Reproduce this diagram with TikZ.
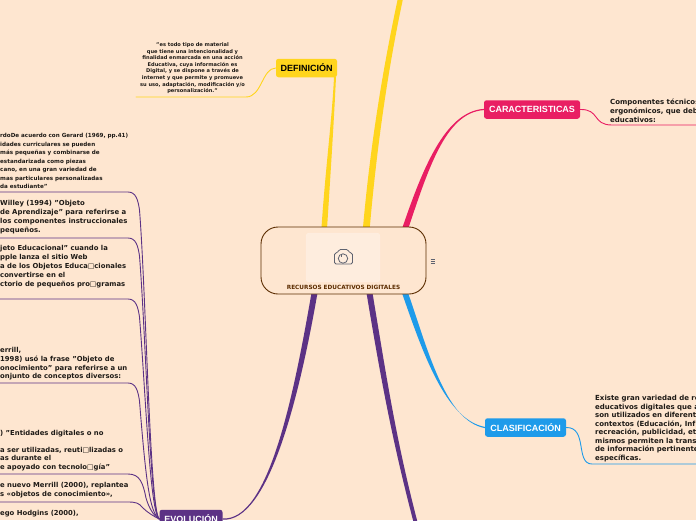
\documentclass[tikz,border=0pt]{standalone}
\usepackage{fontspec}
\setmainfont{DejaVu Sans}
\newfontfamily\labelfont{Liberation Sans}
\usetikzlibrary{calc}
\definecolor{bgc}{HTML}{FEE6D0}
\definecolor{yel}{HTML}{FFD51D}
\definecolor{pnk}{HTML}{E91E63}
\definecolor{blu}{HTML}{1E9BEA}
\definecolor{pur}{HTML}{5C3285}
\definecolor{brn}{HTML}{5B2C00}
\definecolor{txt}{HTML}{1E1A16}
\definecolor{ico}{HTML}{5F6370}
\tikzset{
  topic/.style={rounded corners=2.5pt,inner sep=0pt,minimum height=18.5pt,font=\labelfont\bfseries\fontsize{9}{11}\selectfont,anchor=center},
  blockA/.style={inner sep=0pt,anchor=north west,align=left,text=txt,font=\bfseries\fontsize{5.6}{8.5}\selectfont},
  blockB/.style={inner sep=0pt,anchor=north west,align=left,text=txt,font=\bfseries\fontsize{6.85}{8.8}\selectfont},
  blockD/.style={inner sep=0pt,anchor=north west,align=left,text=txt,font=\bfseries\fontsize{6.85}{8.5}\selectfont},
  blockC/.style={inner sep=0pt,anchor=north,align=center,text=txt,font=\bfseries\fontsize{5.1}{6.6}\selectfont},
  twig/.style={line width=0.9pt,line cap=round},
}
% colour, start, start half-width vector, control 1, control 2, end, end half-width vector
\newcommand\taperbranch[7]{%
  \fill[#1] ($#2+#3$) .. controls ($#4+#3$) and ($#5+#7$) .. ($#6+#7$)
     -- ($#6-#7$) .. controls ($#5-#7$) and ($#4-#3$) .. ($#2-#3$) -- cycle;}
\begin{document}
\begin{tikzpicture}[x=1pt,y=-1pt]
\useasboundingbox (0,0) rectangle (696,520);
\clip (0,0) rectangle (696,520);
\fill[bgc] (0,0) rectangle (696,520);
% nodes
\node[topic,fill=yel,text=black,minimum width=61pt] (def) at (306.5,68) {DEFINICIÓN};
\node[topic,fill=pnk,text=white,minimum width=96pt] (car) at (532,109.5) {CARACTERISTICAS};
\node[topic,fill=blu,text=white,minimum width=81pt] (cla) at (525.5,427.5) {CLASIFICACIÓN};
\node[topic,fill=pur,text=white,minimum width=63pt] (evo) at (191,519) {EVOLUCIÓN};
\coordinate (root) at (343.5,260.5);
\coordinate (topY) at (401,-4);
\coordinate (botP) at (416,524);
% thick branches
\taperbranch{yel}{(324,232)}{(2.8,0)}{(328,170)}{(333,120)}{(335,77)}{(1,0)}
\taperbranch{yel}{(366,232)}{(3.4,0)}{(373,150)}{(385,70)}{(topY)}{(2.6,0)}
\taperbranch{pnk}{(404,232)}{(2.8,0.8)}{(425,170)}{(445,112)}{(car.west)}{(0,0.6)}
\taperbranch{blu}{(404,290)}{(2.8,-0.8)}{(425,350)}{(445,420)}{(cla.west)}{(0,0.6)}
\taperbranch{pur}{(369,290)}{(3,0)}{(384,380)}{(394,440)}{(botP)}{(2,0)}
\taperbranch{pur}{(315,290)}{(3,0)}{(296,400)}{(268,522)}{(evo.east)}{(0,0.6)}
% thin branches
\draw[twig,yel] (def.west) .. controls (262,68) and (262,97) .. (246,97) -- (136,97);
\draw[twig,pnk] (car.east) .. controls (600,109) and (592,125) .. (612,125) -- (700,125);
\draw[twig,blu] (cla.east) .. controls (588,427) and (575,464) .. (592,464) -- (700,464);
\foreach \yy in {192,238,299,383}{
  \draw[twig,pur] (evo.west) .. controls (150,513) and (146,{\yy+100}) .. (139.5,{\yy+18})
     .. controls (138,{\yy+8}) and (136,\yy) .. (128,\yy) -- (-4,\yy);}
\draw[twig,pur] (evo.west) .. controls (153,515) and (149,508) .. (146,498)
     .. controls (143,483) and (140,474) .. (128,474) -- (-4,474);
\draw[twig,pur] (evo.west) .. controls (153,516) and (147,512) .. (143,508)
     .. controls (139,503) and (136,502) .. (128,502) -- (-4,502);
% root
\node[draw=brn,line width=0.9pt,fill=bgc,rounded corners=17pt,minimum width=165pt,minimum height=67pt,inner sep=0pt] (rootbox) at (root) {};
\node[fill=white,fill opacity=0.3,draw=white,draw opacity=0.25,rounded corners=3pt,minimum width=74pt,minimum height=49pt,inner sep=0pt] (photo) at (343,257.5) {};
\draw[ico,line width=0.8pt,rounded corners=1.5pt] (334.5,253) -- (337.5,253) -- (339,249.5) -- (348,249.5) -- (349.5,253) -- (352.5,253) -- (352.5,264) -- (334.5,264) -- cycle;
\draw[ico,line width=0.8pt] (343,258.5) circle (4.7);
\draw[ico,line width=0.6pt] (341,256.5) arc (135:225:1.5);
\node[inner sep=0pt,text=brn,font=\bfseries\fontsize{5.75}{7}\selectfont] (title) at (343.5,287) {RECURSOS EDUCATIVOS DIGITALES};
\foreach \yy in {259.5,261.5,263.5}{\draw[ico,line width=0.6pt] (430.5,\yy) -- (434.5,\yy);}
% texts
\node[blockC] (t0) at (192.5,42.5) {"es todo tipo de material\\que tiene una intencionalidad y\\finalidad enmarcada en una acción\\Educativa, cuya información es\\Digital, y se dispone a través de\\internet y que permite y promueve\\su uso, adaptación, modificación y/o\\personalización."};
\node[blockA] (t1) at (0,133.5) {rdoDe acuerdo con Gerard (1969, pp.41)\\idades curriculares se pueden\\más pequeñas y combinarse de\\ estandarizada como piezas\\cano, en una gran variedad de\\mas particulares personalizadas\\da estudiante"};
\node[blockB,font=\bfseries\fontsize{6.9}{9}\selectfont] (t2) at (0,200) {Willey (1994) "Objeto\\de Aprendizaje" para referirse a\\los componentes instruccionales\\pequeños.};
\node[blockB] (t3) at (0,245.5) {jeto Educacional" cuando la\\pple lanza el sitio Web\\a de los Objetos Educa□cionales\\convertirse en el\\ctorio de pequeños pro□gramas};
\node[blockB] (t4) at (0,347) {errill,\\1998) usó la frase "Objeto de\\onocimiento" para referirse a un\\onjunto de conceptos diversos:};
\node[blockD] (t5) at (0,430) {) "Entidades digitales o no\\\\a ser utilizadas, reuti□lizadas o\\as durante el\\e apoyado con tecnolo□gía"};
\node[blockB] (t6) at (0,482) {e nuevo Merrill (2000), replantea\\s «objetos de conocimiento»,};
\node[blockB] (t7) at (0,510) {ego Hodgins (2000),};
\node[blockB,font=\bfseries\fontsize{7}{8.8}\selectfont] (t8) at (610,99) {Componentes técnicos\\ergonómicos, que deb\\educativos:};
\node[blockD,font=\bfseries\fontsize{7}{8.5}\selectfont] (t9) at (595,395) {Existe gran variedad de re\\educativos digitales que a\\son utilizados en diferent\\contextos (Educación, Inf\\recreación, publicidad, et\\mismos permiten la trans\\de información pertinente\\específicas.};
\end{tikzpicture}
\end{document}
